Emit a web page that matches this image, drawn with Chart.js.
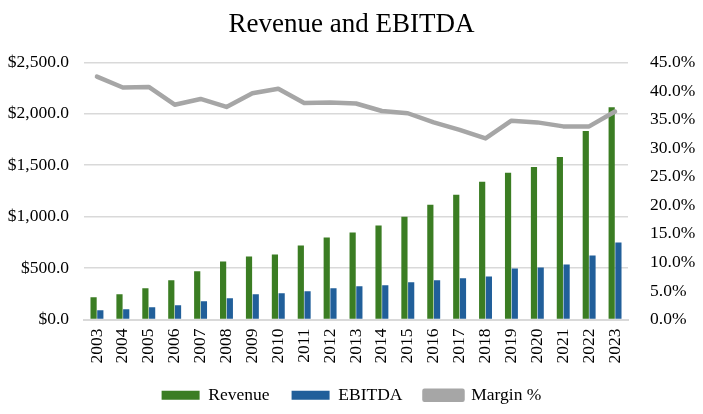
<!DOCTYPE html>
<html>
<head>
<meta charset="utf-8">
<script src="https://cdn.jsdelivr.net/npm/chart.js@4.4.1/dist/chart.umd.min.js"></script>
<style>
    html, body { margin: 0; padding: 0; background: #fff; }
    #wrap { width: 703px; height: 414px; }
</style>
</head>
<body>
<div id="wrap"><canvas id="chart"></canvas></div>
<script>
const years = ["2003", "2004", "2005", "2006", "2007", "2008", "2009", "2010", "2011", "2012", "2013",
    "2014", "2015", "2016", "2017", "2018", "2019", "2020", "2021", "2022", "2023"];
const revenue = [216, 245, 303, 381, 468, 565, 613, 632, 719, 797, 845,
    913, 1000, 1116, 1213, 1339, 1426, 1484, 1581, 1832, 2065];
const ebitda = [90, 100, 119, 139, 177, 206, 245, 255, 274, 303, 323,
    332, 361, 381, 400, 419, 497, 506, 535, 623, 748];
const marginPct = [42.5, 40.6, 40.7, 37.6, 38.6, 37.2, 39.6, 40.4, 37.9, 38.0, 37.8,
    36.5, 36.1, 34.5, 33.2, 31.7, 34.8, 34.5, 33.8, 33.8, 36.4];

const serif = "'Liberation Serif', 'Times New Roman', serif";
const gridColor = "#d9d9d9";
const tickSize = 17.5;

const ctx = document.getElementById("chart").getContext("2d");
new Chart(ctx, {
    type: "bar",
    data: {
        labels: years,
        datasets: [
            {
                label: "Revenue",
                data: revenue,
                backgroundColor: "#3b7d23",
                yAxisID: "y",
                order: 1,
                categoryPercentage: 0.52,
                barPercentage: 0.92,
            },
            {
                label: "EBITDA",
                data: ebitda,
                backgroundColor: "#215f9a",
                yAxisID: "y",
                order: 1,
                categoryPercentage: 0.52,
                barPercentage: 0.92,
            },
            {
                type: "line",
                label: "Margin %",
                data: marginPct,
                borderColor: "#a6a6a6",
                backgroundColor: "#a6a6a6",
                borderWidth: 4.5,
                borderJoinStyle: "round",
                borderCapStyle: "round",
                pointRadius: 0,
                tension: 0,
                yAxisID: "y2",
                order: 0,
            },
        ],
    },
    options: {
        responsive: true,
        maintainAspectRatio: false,
        animation: false,
        layout: {
            padding: { top: 4, bottom: 0, left: 0, right: 0 },
        },
        plugins: {
            title: {
                display: true,
                text: "Revenue and EBITDA",
                color: "#000",
                font: { family: serif, size: 27, weight: "normal" },
                padding: { top: 5, bottom: 21 },
            },
            legend: {
                position: "bottom",
                labels: {
                    color: "#000",
                    font: { family: serif, size: tickSize },
                    boxWidth: 38,
                    boxHeight: 9,
                    padding: 22,
                    sort: (a, b) => a.datasetIndex - b.datasetIndex,
                },
            },
            tooltip: { enabled: false },
        },
        scales: {
            x: {
                grid: { display: false, drawTicks: false },
                border: { color: gridColor, width: 2 },
                ticks: {
                    color: "#000",
                    font: { family: serif, size: tickSize },
                    minRotation: 90,
                    maxRotation: 90,
                    padding: 9,
                },
                afterFit: (scale) => {
                    scale.height = 45;
                },
            },
            y: {
                position: "left",
                min: 0,
                max: 2500,
                ticks: {
                    stepSize: 500,
                    color: "#000",
                    font: { family: serif, size: tickSize },
                    padding: 15,
                    callback: (v) => "$" + v.toLocaleString("en-US", { minimumFractionDigits: 1, maximumFractionDigits: 1 }),
                },
                grid: { color: gridColor, lineWidth: 1.5, drawTicks: false },
                border: { display: false },
                afterFit: (scale) => {
                    scale.width = 84;
                },
            },
            y2: {
                position: "right",
                min: 0,
                max: 45,
                ticks: {
                    stepSize: 5,
                    color: "#000",
                    font: { family: serif, size: tickSize },
                    padding: 22,
                    callback: (v) => v.toFixed(1) + "%",
                },
                grid: { display: false, drawTicks: false },
                border: { display: false },
                afterFit: (scale) => {
                    scale.width = 75;
                },
            },
        },
    },
});
</script>
</body>
</html>
